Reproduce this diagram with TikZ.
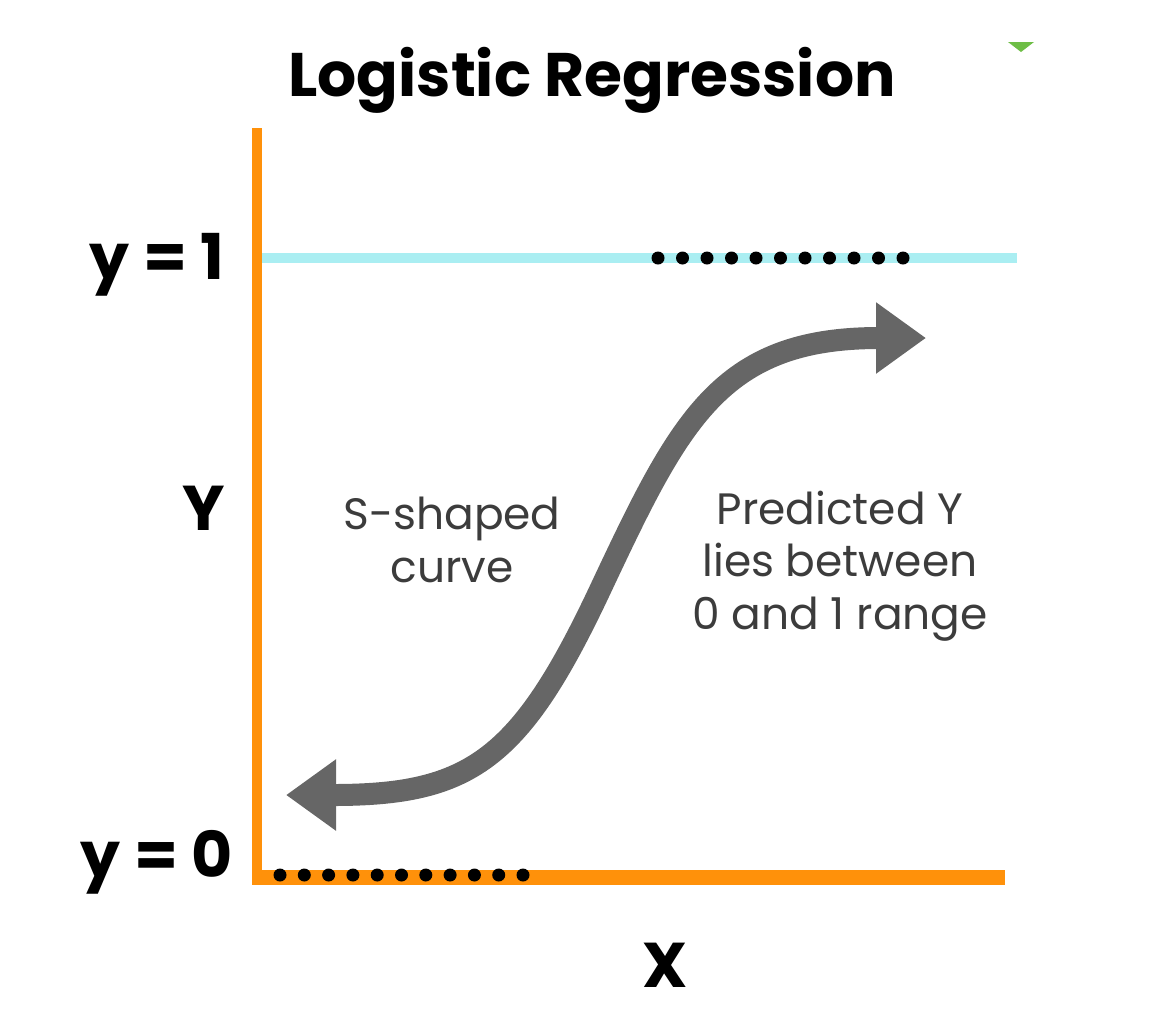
\documentclass[tikz,border=0pt]{standalone}
\usepackage{fontspec}
\setmainfont{Poppins}
\usetikzlibrary{arrows.meta}
\definecolor{axisorange}{RGB}{255,145,10}
\definecolor{lightcyan}{RGB}{170,238,242}
\definecolor{arrowgray}{RGB}{102,102,102}
\definecolor{textgray}{RGB}{60,60,60}
\definecolor{markgreen}{RGB}{110,190,70}
\tikzset{
    axis/.style={axisorange, line width=10*0.02cm},
    dot/.style={circle, fill=black, inner sep=0pt, minimum size=13*0.02cm},
    biglabel/.style={font=\bfseries\fontsize{36}{40}\selectfont},
    note/.style={align=center, text=textgray, font=\fontsize{25}{30}\selectfont}
}
\begin{document}
\begin{tikzpicture}[x=0.02cm, y=-0.02cm]
    \useasboundingbox (0,0) rectangle (1158,1032);

    % title
    \node[font=\bfseries\fontsize{35}{40}\selectfont] (title) at (592,80) {Logistic Regression};
    \fill[markgreen] (1008,42) -- (1034,42) -- (1021,52) -- cycle;

    % reference lines and axes
    \coordinate (top left) at (262,258);
    \coordinate (top right) at (1017,258);
    \draw[lightcyan, line width=10*0.02cm] (top left) -- (top right);
    \coordinate (origin) at (257,875);
    \coordinate (y end) at (257,128);
    \coordinate (x end) at (1005,875);
    \draw[axis] (y end) -- (origin |- 0,880) -- (x end |- 0,880);
    \draw[axis] (origin) -- (x end);

    % data points
    \foreach \i in {0,...,10}
    {
        \node[dot] (top\i) at (658+24.5*\i,258) {};
        \node[dot] (bot\i) at (280+24.3*\i,875) {};
    }

    % labels
    \node[biglabel] (yone) at (157,265) {y = 1};
    \node[biglabel] (yzero) at (157,862) {y = 0};
    \node[biglabel] (ylab) at (204,508) {Y};
    \node[biglabel] (xlab) at (665,965) {X};

    % s-curve
    \coordinate (s start) at (286,795);
    \coordinate (s end) at (926,338);
    \draw[arrowgray, line width=22*0.02cm,
          {Triangle[length=50*0.02cm, width=68*0.02cm]}-{Triangle[length=50*0.02cm, width=68*0.02cm]}]
        (s start) .. controls (470,795) and (520,760) .. (600,590)
        .. controls (680,420) and (720,338) .. (s end);

    \node[note] (snote) at (452,540) {S-shaped\\curve};
    \node[note] (pnote) at (840,566) {Predicted Y\\lies between\\0 and 1 range};
\end{tikzpicture}
\end{document}
